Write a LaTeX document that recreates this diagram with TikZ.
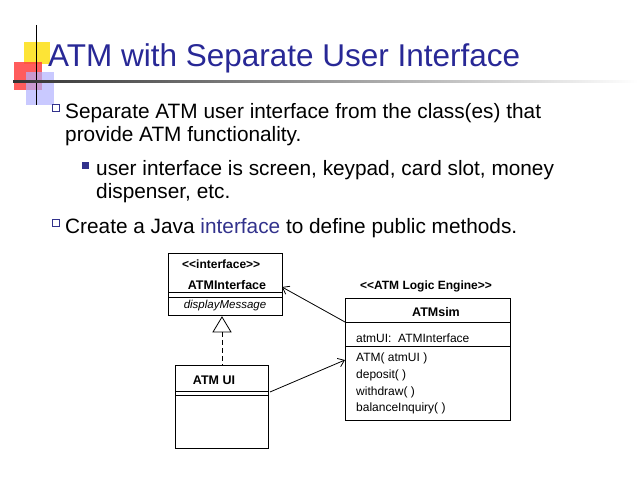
\documentclass[tikz,border=0pt]{standalone}
\usepackage{fontspec}
\setmainfont{Liberation Sans}
\usetikzlibrary{arrows.meta}
\definecolor{ttl}{RGB}{40,40,150}
\definecolor{bul}{RGB}{50,50,140}
\begin{document}
\begin{tikzpicture}[x=1pt,y=-1pt,
 body/.style={anchor=west,font=\fontsize{20.8}{20}\selectfont,inner sep=0},
 uml/.style={anchor=center,font=\fontsize{12}{12}\selectfont,inner sep=0},
 umlb/.style={uml,font=\fontsize{12}{12}\selectfont\bfseries},
 box/.style={draw,line width=0.8pt}]
\useasboundingbox (0,0) rectangle (638,478);
% decoration
\fill[yellow!80!orange,opacity=0.8] (24,42) rectangle (50,64);
\fill[red!75,opacity=0.85] (14,62) rectangle (42,90);
\fill[blue!30!white,opacity=0.7] (26,72) rectangle (54,105);
\draw[line width=1pt] (36,25) -- (36,105);
\shade[left color=black!80,right color=white] (13,81) rectangle (638,83);
\node[anchor=west,inner sep=0,text=ttl,font=\fontsize{31.5}{30}\selectfont] (title) at (48,58) {ATM with Separate User Interface};
% bullets
\node[draw=bul,line width=0.6pt,minimum size=7pt,inner sep=0] (b1) at (56,108) {};
\node[body] (t1) at (65,113) {Separate ATM user interface from the class(es) that};
\node[body] (t2) at (65,136) {provide ATM functionality.};
\node[fill=bul,minimum size=7pt,inner sep=0] (b2) at (85,166) {};
\node[body] (t3) at (96,170) {user interface is screen, keypad, card slot, money};
\node[body] (t4) at (96,193) {dispenser, etc.};
\node[draw=bul,line width=0.6pt,minimum size=7pt,inner sep=0] (b3) at (56,223) {};
\node[body] (t5) at (65,228) {Create a Java \textcolor{bul}{interface} to define public methods.};
% ATMInterface
\draw[box] (168,253) rectangle (282,315);
\draw[line width=0.6pt] (168,292) -- (282,292) (168,297) -- (282,297);
\coordinate (iR) at (282,287);
\node[umlb,anchor=west] (i1) at (182,264) {{<}{<}interface{>}{>}};
\node[umlb,font=\fontsize{12.5}{12}\selectfont\bfseries] (i2) at (227,285) {ATMInterface};
\node[uml,font=\fontsize{11.5}{12}\selectfont\itshape] (i3) at (225,306) {displayMessage};
% triangle and dashed
\draw[line width=0.8pt] (222,317) -- (231,332) -- (213,332) -- cycle;
\coordinate (tb) at (222,332);
\coordinate (ut) at (222,365);
\draw[line width=1pt,dash pattern=on 5pt off 3pt] (tb) -- (ut);
% ATM UI
\draw[box] (175,365) rectangle (268,448);
\draw[line width=0.6pt] (175,391) -- (268,391) (175,395) -- (268,395);
\node[umlb,font=\fontsize{12.5}{12}\selectfont\bfseries] (u1) at (214,380) {ATM UI};
\coordinate (uR) at (270,392);
% ATMsim
\node[umlb] (le) at (426,286) {{<}{<}ATM Logic Engine{>}{>}};
\draw[box] (345,298) rectangle (510,420);
\draw[line width=0.6pt] (345,322) -- (510,322) (345,346) -- (510,346);
\node[umlb,font=\fontsize{12.5}{12}\selectfont\bfseries] (s1) at (436,312) {ATMsim};
\node[uml,anchor=west] (s2) at (356,338) {atmUI:\ \ ATMInterface};
\node[uml,anchor=west] (s3) at (356,358) {ATM( atmUI )};
\node[uml,anchor=west] (s4) at (356,375) {deposit( )};
\node[uml,anchor=west] (s5) at (356,392) {withdraw( )};
\node[uml,anchor=west] (s6) at (356,408) {balanceInquiry( )};
\coordinate (sA) at (345,322);
\coordinate (sB) at (345,360);
\draw[line width=0.8pt,-{Straight Barb[length=6pt,width=9pt]}] (sA) -- (iR);
\draw[line width=0.8pt,-{Straight Barb[length=6pt,width=9pt]}] (uR) -- (sB);
\end{tikzpicture}
\end{document}
